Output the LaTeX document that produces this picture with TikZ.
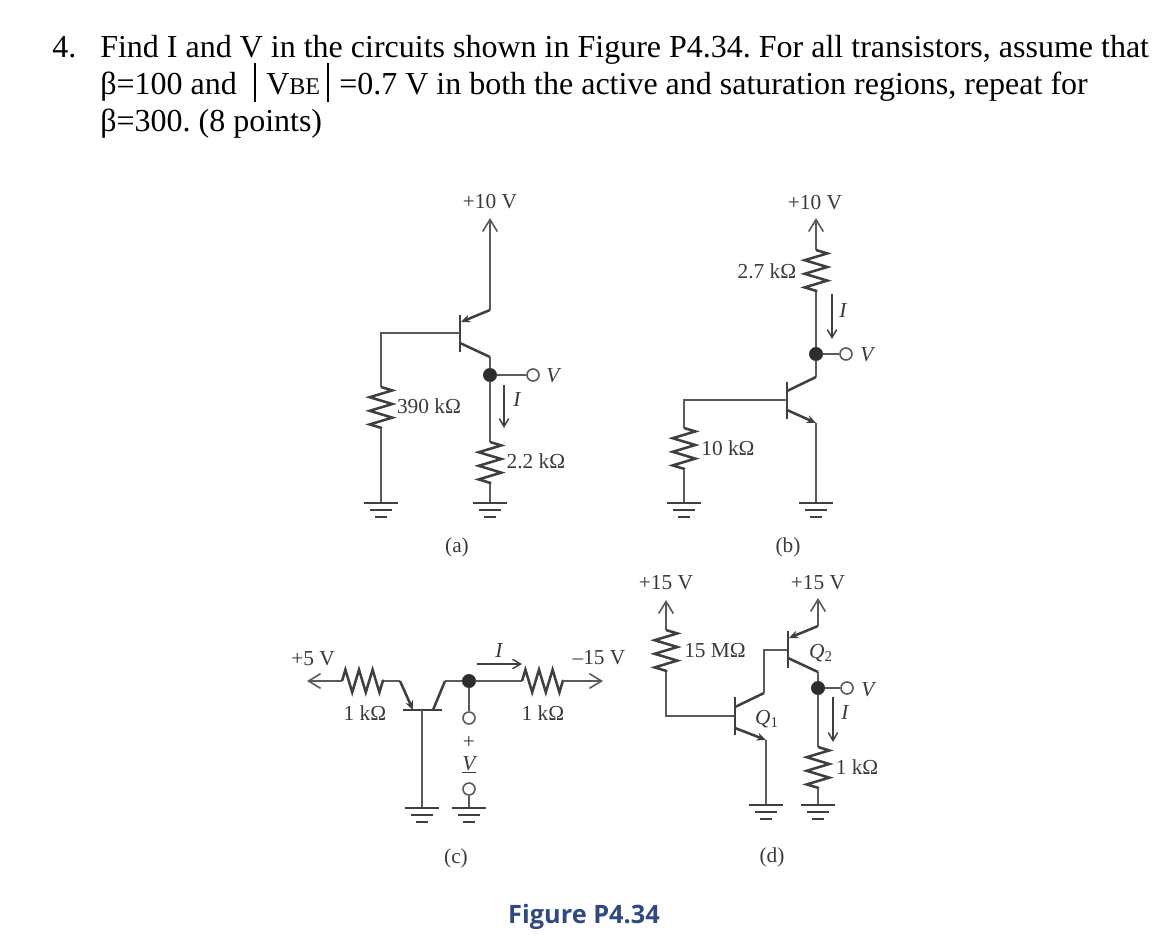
\documentclass[tikz,border=0pt]{standalone}
\usepackage{fontspec}
\setmainfont{Liberation Serif}
\newfontfamily\capfont{Open Sans}
\usetikzlibrary{decorations.pathmorphing,arrows.meta,calc}
\definecolor{wirecol}{HTML}{5A5A5A}
\definecolor{labelcol}{HTML}{3A3A3A}
\definecolor{capcol}{HTML}{2F4A7F}
\tikzset{
	wire/.style={wirecol, line width=1.2pt},
	devline/.style={wirecol!70!black, line width=1.9pt},
	res/.style={wirecol!70!black, line width=1.9pt, decorate, decoration={zigzag, segment length=10.2pt, amplitude=8.5pt}},
	rail/.style={wire, -{Straight Barb[length=9pt, width=11pt]}},
	cur/.style={wirecol!70!black, line width=1.1pt, -{Straight Barb[length=6pt, width=7pt]}},
	emit/.style={devline, -{Stealth[length=7pt, width=6pt]}},
	label/.style={labelcol, font=\fontsize{16}{16}\selectfont, inner sep=0pt},
	ilabel/.style={labelcol, font=\fontsize{16}{16}\selectfont\itshape, inner sep=0pt},
	line/.style={black, font=\fontsize{24}{24}\selectfont, inner sep=0pt, anchor=base west},
	junct/.style={circle, fill=wirecol!50!black, draw=wirecol!50!black, minimum size=10pt, inner sep=0pt},
	term/.style={circle, fill=white, draw=wirecol, line width=1.2pt, minimum size=9pt, inner sep=0pt},
	gndA/.style={wirecol!70!black, line width=1.9pt},
}
\newcommand{\gnd}[1]{%
	\draw[gndA] ($(#1)+(-17,0)$) -- ($(#1)+(17,0)$);
	\draw[gndA] ($(#1)+(-11,7)$) -- ($(#1)+(11,7)$);
	\draw[gndA] ($(#1)+(-6,14)$) -- ($(#1)+(6,14)$);
}
\frenchspacing
\begin{document}
\begin{tikzpicture}[x=0.75pt, y=-0.75pt]
	\useasboundingbox (0,0) rectangle (1174,940);
	% question text
	\node[line] (num) at (52,57.5) {4.};
	\node[line] (l1) at (100,57.5) {Find I and V in the circuits shown in Figure P4.34. For all transistors, assume that};
	\node[line] (l2a) at (100,94) {β=100 and};
	\node[line] (l2b) at (266,94) {V{\fontsize{18}{18}\selectfont BE}};
	\node[line] (l2c) at (339,94) {=0.7 V in both the active and saturation regions, repeat for};
	\node[line] (l3) at (100,131) {β=300. (8 points)};
	\coordinate (bar1a) at (255,63); \coordinate (bar1b) at (255,102);
	\coordinate (bar2a) at (328,63); \coordinate (bar2b) at (328,102);
	\draw[black, line width=1.6pt] (bar1a) -- (bar1b);
	\draw[black, line width=1.6pt] (bar2a) -- (bar2b);

	% circuit (a)
	\node[label] (asup) at (490,202) {+10 V};
	\coordinate (atip) at (490,218);
	\coordinate (ae) at (490,310);
	\coordinate (aeb) at (461,322);
	\coordinate (ab1) at (460,315);
	\coordinate (ab2) at (460,352);
	\coordinate (ab) at (460,333);
	\coordinate (acorner) at (381,333);
	\coordinate (ar1t) at (381,387);
	\coordinate (ar1b) at (381,428);
	\coordinate (ag1) at (381,503);
	\coordinate (acb) at (460,343);
	\coordinate (ac) at (490,357);
	\node[junct] (aj) at (490,375) {};
	\node[term] (at) at (533,375) {};
	\coordinate (ar2t) at (490,442);
	\coordinate (ar2b) at (490,484);
	\coordinate (ag2) at (490,503);
	\coordinate (ai1) at (504,385);
	\coordinate (ai2) at (504,428);
	\draw[rail] (ae) -- (atip);
	\draw[emit] (ae) -- (aeb);
	\draw[devline] (ab1) -- (ab2);
	\draw[wire] (ab) -- (acorner) -- (ar1t);
	\draw[res] (ar1t) -- (ar1b);
	\draw[wire] (ar1b) -- (ag1);
	\gnd{ag1}
	\draw[devline] (acb) -- (ac);
	\draw[wire] (ac) -- (aj) -- (ar2t);
	\draw[wire] (aj) -- (at);
	\draw[res] (ar2t) -- (ar2b);
	\draw[wire] (ar2b) -- (ag2);
	\gnd{ag2}
	\draw[cur] (ai1) -- (ai2);
	\node[ilabel] (av) at (553,376) {V};
	\node[ilabel] (ai) at (517,400) {I};
	\node[label] (ar1l) at (429,406) {390 kΩ};
	\node[label] (ar2l) at (536,461) {2.2 kΩ};
	\node[label] (acap) at (457,547) {(a)};

	% circuit (b)
	\node[label] (bsup) at (815,203) {+10 V};
	\coordinate (btip) at (816,218);
	\coordinate (br1t) at (816,250);
	\coordinate (br1b) at (816,292);
	\node[junct] (bj) at (816,354) {};
	\node[term] (bt) at (846,354) {};
	\coordinate (bc) at (816,377);
	\coordinate (bcb) at (787,391);
	\coordinate (bb1) at (787,382);
	\coordinate (bb2) at (787,419);
	\coordinate (bb) at (787,400);
	\coordinate (bcorner) at (684,400);
	\coordinate (br2t) at (684,428);
	\coordinate (br2b) at (684,469);
	\coordinate (bg1) at (684,503);
	\coordinate (beb) at (787,410);
	\coordinate (be) at (816,423);
	\coordinate (bg2) at (816,503);
	\coordinate (bi1) at (832,294);
	\coordinate (bi2) at (832,339);
	\draw[rail] (br1t) -- (btip);
	\draw[res] (br1t) -- (br1b);
	\draw[wire] (br1b) -- (bj) -- (bc);
	\draw[wire] (bj) -- (bt);
	\draw[devline] (bc) -- (bcb);
	\draw[devline] (bb1) -- (bb2);
	\draw[wire] (bb) -- (bcorner) -- (br2t);
	\draw[res] (br2t) -- (br2b);
	\draw[wire] (br2b) -- (bg1);
	\gnd{bg1}
	\draw[emit] (beb) -- (be);
	\draw[wire] (be) -- (bg2);
	\gnd{bg2}
	\draw[cur] (bi1) -- (bi2);
	\node[ilabel] (bv) at (867,355) {V};
	\node[ilabel] (bi) at (843,311) {I};
	\node[label] (br1l) at (767,271) {2.7 kΩ};
	\node[label] (br2l) at (728,448) {10 kΩ};
	\node[label] (bcap) at (788,547) {(b)};

	% circuit (c)
	\node[label] (csup1) at (313,659) {+5 V};
	\coordinate (ctip1) at (307,681);
	\coordinate (cr1a) at (342,681);
	\coordinate (cr1b) at (384,681);
	\coordinate (ce) at (400,681);
	\coordinate (ceb) at (413,710);
	\coordinate (cb1) at (403,710);
	\coordinate (cb2) at (442,710);
	\coordinate (cb) at (422,710);
	\coordinate (cg1) at (422,808);
	\coordinate (ccb) at (433,710);
	\coordinate (cc) at (445,681);
	\node[junct] (cj) at (469,681) {};
	\coordinate (cr2a) at (522,681);
	\coordinate (cr2b) at (563,681);
	\coordinate (ctip2) at (603,681);
	\coordinate (ci1) at (477,664);
	\coordinate (ci2) at (522,664);
	\node[term] (ct1) at (469,718) {};
	\node[term] (ct2) at (469,789) {};
	\coordinate (cg2) at (469,808);
	\draw[rail] (cr1a) -- (ctip1);
	\draw[res] (cr1a) -- (cr1b);
	\draw[wire] (cr1b) -- (ce);
	\draw[emit] (ce) -- (ceb);
	\draw[devline] (cb1) -- (cb2);
	\draw[wire] (cb) -- (cg1);
	\gnd{cg1}
	\draw[devline] (ccb) -- (cc);
	\draw[wire] (cc) -- (cj) -- (cr2a);
	\draw[res] (cr2a) -- (cr2b);
	\draw[rail] (cr2b) -- (ctip2);
	\draw[cur] (ci1) -- (ci2);
	\draw[wire] (cj) -- (ct1);
	\draw[wire] (ct2) -- (cg2);
	\gnd{cg2}
	\node[label] (cplus) at (469,742) {+};
	\node[ilabel] (cv) at (469,765) {\underline{V}};
	\node[ilabel] (ci) at (499,651) {I};
	\node[label] (csup2) at (599,658) {–15 V};
	\node[label] (cr1l) at (365,713) {1 kΩ};
	\node[label] (cr2l) at (543,713) {1 kΩ};
	\node[label] (ccap) at (456,858) {(c)};

	% circuit (d)
	\node[label] (dsup1) at (666,583) {+15 V};
	\node[label] (dsup2) at (818,583) {+15 V};
	\coordinate (dtip1) at (666,600);
	\coordinate (dr1t) at (666,630);
	\coordinate (dr1b) at (666,672);
	\coordinate (dcorner) at (666,716);
	\coordinate (d1b) at (735,716);
	\coordinate (d1b1) at (735,697);
	\coordinate (d1b2) at (735,735);
	\coordinate (d1cb) at (735,707);
	\coordinate (d1c) at (764,693);
	\coordinate (dup) at (764,650);
	\coordinate (d2b) at (788,650);
	\coordinate (d2b1) at (788,631);
	\coordinate (d2b2) at (788,668);
	\coordinate (d2e) at (818,626);
	\coordinate (d2eb) at (789,638);
	\coordinate (dtip2) at (818,598);
	\coordinate (d2cb) at (788,658);
	\coordinate (d2c) at (818,672);
	\node[junct] (dj) at (818,688) {};
	\node[term] (dt) at (847,688) {};
	\coordinate (dr2t) at (818,747);
	\coordinate (dr2b) at (818,788);
	\coordinate (dg2) at (818,805);
	\coordinate (d1eb) at (735,728);
	\coordinate (d1e) at (766,740);
	\coordinate (dg1) at (766,805);
	\coordinate (di1) at (833,697);
	\coordinate (di2) at (833,742);
	\draw[rail] (dr1t) -- (dtip1);
	\draw[res] (dr1t) -- (dr1b);
	\draw[wire] (dr1b) -- (dcorner) -- (d1b);
	\draw[devline] (d1b1) -- (d1b2);
	\draw[devline] (d1cb) -- (d1c);
	\draw[wire] (d1c) -- (dup) -- (d2b);
	\draw[devline] (d2b1) -- (d2b2);
	\draw[emit] (d2e) -- (d2eb);
	\draw[rail] (d2e) -- (dtip2);
	\draw[devline] (d2cb) -- (d2c);
	\draw[wire] (d2c) -- (dj) -- (dr2t);
	\draw[wire] (dj) -- (dt);
	\draw[res] (dr2t) -- (dr2b);
	\draw[wire] (dr2b) -- (dg2);
	\gnd{dg2}
	\draw[emit] (d1eb) -- (d1e);
	\draw[wire] (d1e) -- (dg1);
	\gnd{dg1}
	\draw[cur] (di1) -- (di2);
	\node[ilabel] (dv) at (868,690) {V};
	\node[ilabel] (di) at (845,713) {I};
	\node[ilabel] (dq2) at (821,653) {Q{\upshape\textsubscript{2}}};
	\node[ilabel] (dq1) at (767,719) {Q{\upshape\textsubscript{1}}};
	\node[label] (dr1l) at (715,651) {15 MΩ};
	\node[label] (dr2l) at (857,767) {1 kΩ};
	\node[label] (dcap) at (772,857) {(d)};

	\node[capcol, font=\capfont\bfseries\fontsize{19}{19}\selectfont, inner sep=0pt] (fig) at (584,917) {Figure P4.34};
\end{tikzpicture}
\end{document}
